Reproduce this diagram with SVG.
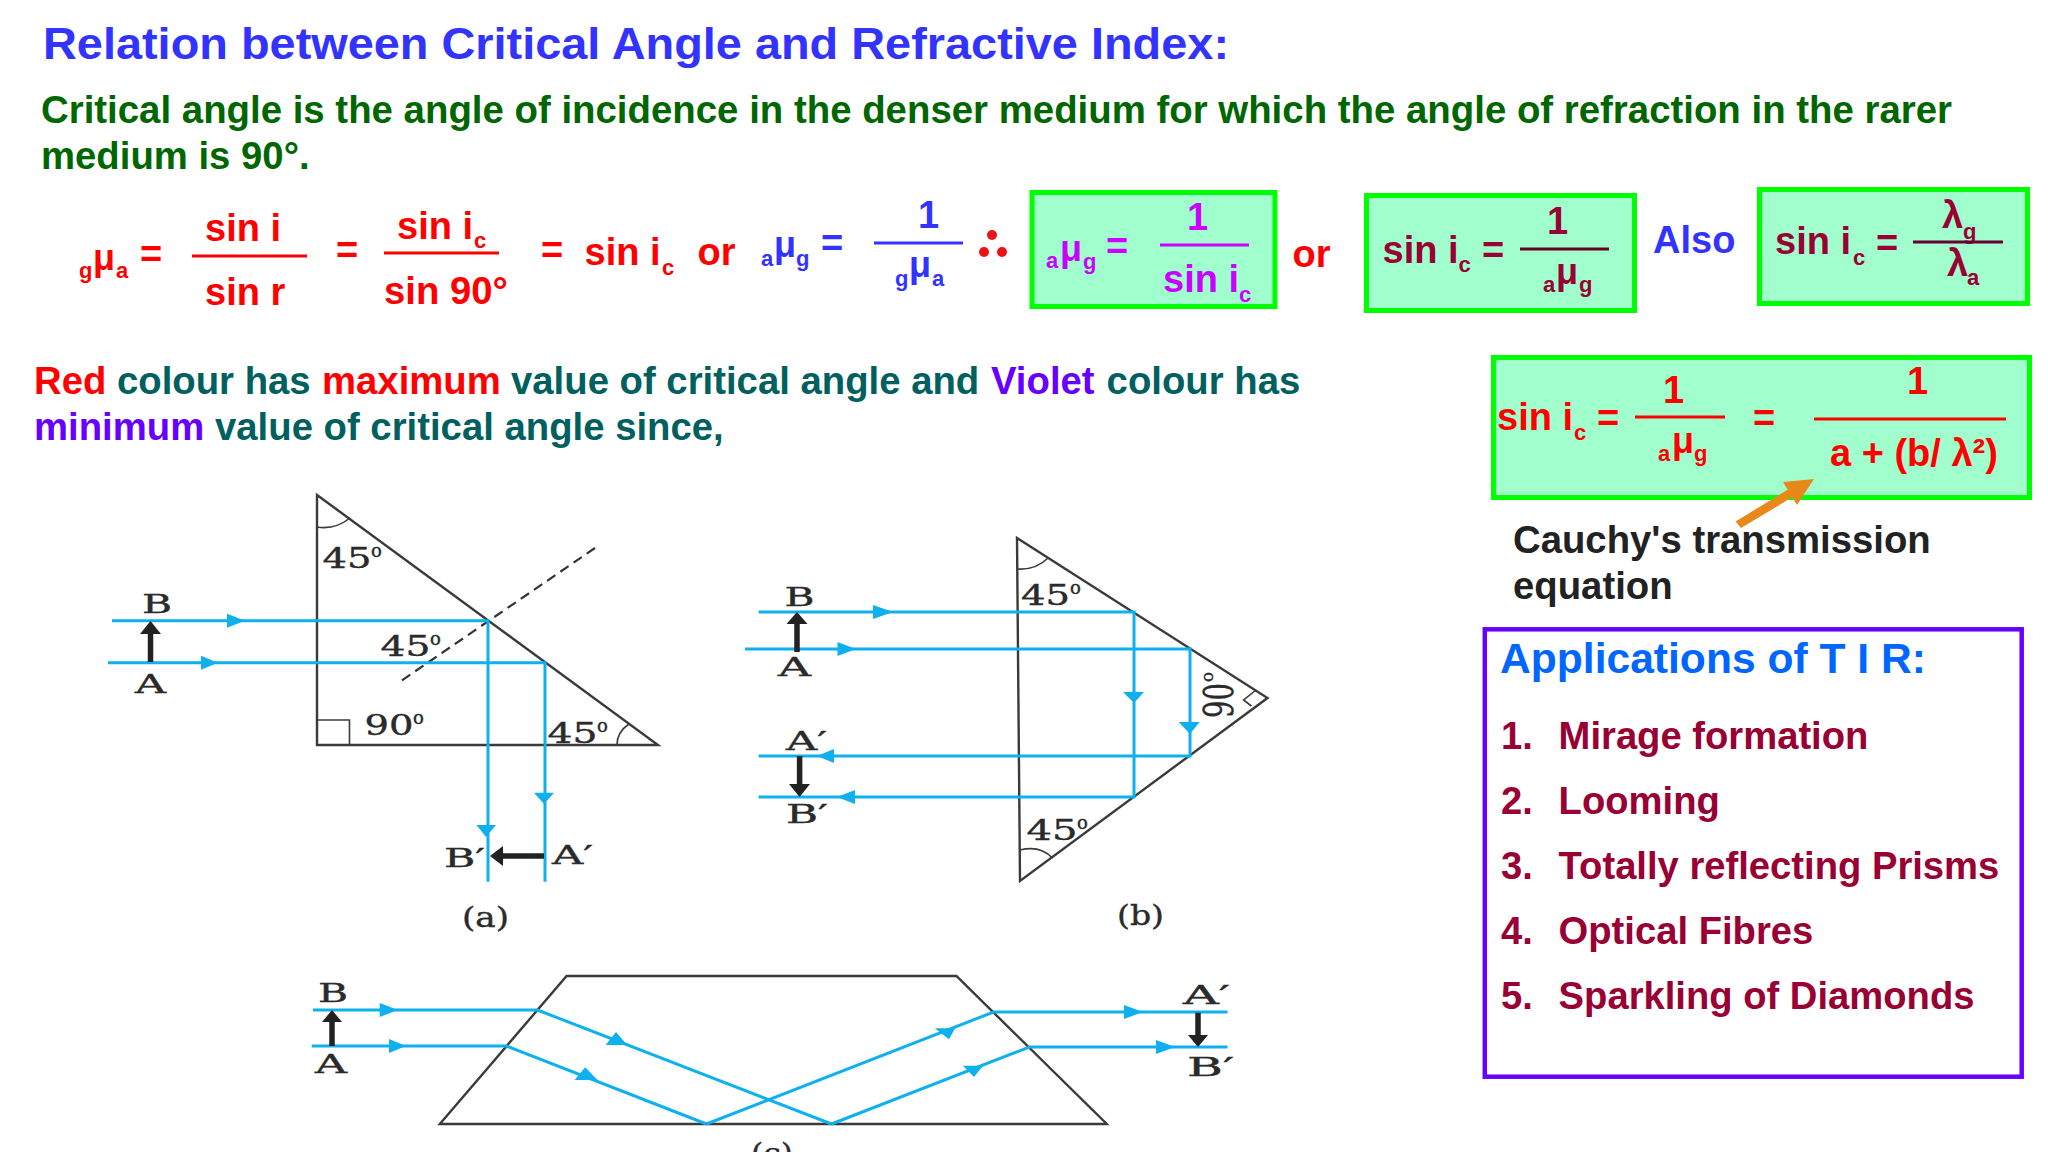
<svg xmlns="http://www.w3.org/2000/svg" width="2048" height="1152" viewBox="0 0 2048 1152">
<style>
text{font-family:"Liberation Sans",Arial,sans-serif;font-weight:700}
.t38{font-size:38px}.sub{font-size:22px}.mu{font-size:36px}
.red{fill:#ff0000}.blue{fill:#3333ff}.pur{fill:#cc00ff}.mar{fill:#990033}.teal{fill:#006060}.vio{fill:#6600ff}
.box{fill:#a0ffcc;stroke:#00ff00;stroke-width:5}
.bar{stroke-width:3;fill:none}
.s{font-family:"DejaVu Serif",serif;font-weight:400;fill:#2a2a2a;stroke:#2a2a2a;stroke-width:.4}
.l{font-size:26px}.n{font-size:28px}.o{font-size:18px}.p{font-size:28px}
.prism{fill:none;stroke:#3a3a3a;stroke-width:2.400}
.thin{fill:none;stroke:#3a3a3a;stroke-width:1.600}
.ray{fill:none;stroke:#0fb0ee;stroke-width:3}
.tip{fill:#0fb0ee}
.blk{stroke:#222;stroke-width:5.500;fill:none}.bh{fill:#222}
</style>
<rect width="2048" height="1152" fill="#ffffff"/>
<g id="heading">
<text x="43" y="59" font-size="44" fill="#3333ff" textLength="1186" lengthAdjust="spacingAndGlyphs">Relation between Critical Angle and Refractive Index:</text>
<text x="41" y="123" font-size="38" fill="#006600" textLength="1911" lengthAdjust="spacingAndGlyphs">Critical angle is the angle of incidence in the denser medium for which the angle of refraction in the rarer</text>
<text x="41" y="169" font-size="38.300" fill="#006600">medium is 90°.</text>
</g>
<g id="formula-line">
<text x="79" y="278" class="sub red">g</text><text x="93" y="270" class="mu red">μ</text><text x="116" y="278" class="sub red">a</text><text x="140" y="267" class="t38 red">=</text>
<text x="205" y="240.500" class="t38 red">sin i</text><line x1="192" y1="256" x2="307" y2="256" class="bar" stroke="#ff0000"/><text x="205" y="305" class="t38 red">sin r</text>
<text x="336" y="263" class="t38 red">=</text>
<text x="397" y="238.500" class="t38 red">sin i</text><text x="474" y="248" class="sub red">c</text><line x1="384" y1="253" x2="499" y2="253" class="bar" stroke="#ff0000"/><text x="384" y="303.500" font-size="38.300" class="red">sin 90°</text>
<text x="541" y="263" class="t38 red">=</text>
<text x="584.500" y="264.500" class="t38 red">sin i</text><text x="662" y="274.500" class="sub red">c</text><text x="697.500" y="264.500" class="t38 red">or</text>
<text x="761" y="266" class="sub blue">a</text><text x="774" y="257" class="mu blue">μ</text><text x="796" y="266" class="sub blue">g</text><text x="821" y="256" class="t38 blue">=</text>
<text x="918" y="228" class="t38 blue">1</text><line x1="874" y1="243" x2="963" y2="243" class="bar" stroke="#3333ff"/>
<text x="895" y="286" class="sub blue">g</text><text x="909" y="277" class="mu blue">μ</text><text x="932" y="286" class="sub blue">a</text>
<circle cx="992" cy="235" r="5" fill="#ee1111"/><circle cx="984" cy="252" r="5" fill="#ee1111"/><circle cx="1002" cy="252" r="5" fill="#ee1111"/>
</g>
<g id="box-mu">
<rect x="1032" y="192.500" width="243" height="114" class="box"/>
<text x="1046" y="268" class="sub pur">a</text><text x="1060" y="261" class="mu pur">μ</text><text x="1083" y="269" class="sub pur">g</text><text x="1106" y="259" class="t38 pur">=</text>
<text x="1187" y="230" class="t38 pur">1</text><line x1="1160" y1="245" x2="1249" y2="245" class="bar" stroke="#cc00ff"/>
<text x="1163" y="292" class="t38 pur">sin i</text><text x="1239" y="302" class="sub pur">c</text>
</g>
<text id="or-2" x="1292.500" y="267" class="t38 red">or</text>
<g id="box-sin">
<rect x="1366.500" y="195.500" width="268" height="115" class="box"/>
<text x="1382.600" y="262.500" class="t38 mar">sin i</text><text x="1458.600" y="272" class="sub mar">c</text><text x="1482" y="263" class="t38 mar">=</text>
<text x="1547" y="234" class="t38 mar">1</text><line x1="1520" y1="249" x2="1609" y2="249" class="bar" stroke="#660022"/>
<text x="1543" y="292" class="sub mar">a</text><text x="1556" y="284" class="mu mar">μ</text><text x="1579" y="292" class="sub mar">g</text>
</g>
<text id="also" x="1653" y="253" class="t38 blue">Also</text>
<g id="box-lambda">
<rect x="1759.500" y="189.500" width="268" height="114" class="box"/>
<text x="1775" y="254" class="t38 mar">sin i</text><text x="1853" y="265" class="sub mar">c</text><text x="1876" y="256" class="t38 mar">=</text>
<text x="1942" y="228" class="t38 mar">λ</text><text x="1963" y="239" class="sub mar">g</text><line x1="1913" y1="242" x2="2003" y2="242" class="bar" stroke="#660033"/>
<text x="1947" y="276" class="t38 mar">λ</text><text x="1967" y="285" class="sub mar">a</text>
</g>
<g id="statement">
<text y="394" font-size="38.300"><tspan class="red" x="34">Red</tspan><tspan class="teal" x="117">colour has</tspan><tspan class="red" x="322">maximum</tspan><tspan class="teal" x="511">value of critical angle and</tspan><tspan class="vio" x="991">Violet</tspan><tspan class="teal" x="1106.600">colour has</tspan></text>
<text y="440" font-size="38.300"><tspan class="vio" x="34">minimum</tspan><tspan class="teal" x="215">value of critical angle since,</tspan></text>
</g>
<g id="box-cauchy">
<rect x="1493.500" y="357.500" width="536" height="140" class="box"/>
<text x="1497" y="430" class="t38 red">sin i</text><text x="1574" y="440" class="sub red">c</text><text x="1597" y="431" class="t38 red">=</text>
<text x="1663" y="403" class="t38 red">1</text><line x1="1635" y1="417" x2="1725" y2="417" class="bar" stroke="#ff0000"/>
<text x="1658" y="461" class="sub red">a</text><text x="1672" y="453" class="mu red">μ</text><text x="1694" y="461" class="sub red">g</text>
<text x="1753" y="431" class="t38 red">=</text>
<text x="1907" y="394" class="t38 red">1</text><line x1="1814" y1="419" x2="2006" y2="419" class="bar" stroke="#ff0000"/>
<text x="1830" y="466" class="t38 red">a + (b/ λ²)</text>
</g>
<g id="cauchy-label">
<polygon points="1735.600,521.500 1787.700,489.700 1783,482 1814,479 1797,505 1792.300,497.300 1741,528" fill="#e6891a"/>
<text x="1513" y="553" font-size="38.300" fill="#222222">Cauchy's transmission</text>
<text x="1513" y="598.500" font-size="38.300" fill="#222222">equation</text>
</g>
<g id="applications">
<rect x="1484.800" y="629.300" width="536.900" height="447.400" fill="#ffffff" stroke="#6600ff" stroke-width="4.500"/>
<text x="1500" y="672.500" font-size="42.600" fill="#0066ff">Applications of T I R:</text>
<g class="mar" font-size="38.200">
<text x="1501" y="749">1.</text><text x="1558.600" y="749">Mirage formation</text>
<text x="1501" y="814">2.</text><text x="1558.600" y="814">Looming</text>
<text x="1501" y="879">3.</text><text x="1558.600" y="879">Totally reflecting Prisms</text>
<text x="1501" y="944">4.</text><text x="1558.600" y="944">Optical Fibres</text>
<text x="1501" y="1009">5.</text><text x="1558.600" y="1009">Sparkling of Diamonds</text>
</g>
</g>
<g id="prism-a">
<polygon class="prism" points="317,495 658,745 317,745"/>
<path class="thin" d="M317,527 Q335,530 350,518 M317,720 H349.500 V745 M617,745 Q617,732 629,724"/>
<line x1="595" y1="548" x2="401" y2="681" stroke="#333333" stroke-width="2.200" stroke-dasharray="10 6"/>
<path class="ray" d="M112,620.700 H488 V881.700 M108,662.700 H545 V881.700"/>
<polygon class="tip" points="227,613.700 245,620.700 227,627.700"/><polygon class="tip" points="201,655.700 218,662.700 201,669.700"/>
<polygon class="tip" points="476.500,825 496,825 486,837"/><polygon class="tip" points="534,792.700 554,792.700 544,804"/>
<path class="blk" d="M150.500,662 V632"/><polygon class="bh" points="150.500,621 161,634 140,634"/>
<path class="blk" d="M544,856 H500"/><polygon class="bh" points="490,856 503,846 503,866"/>
<text class="s l" x="142" y="613" textLength="30" lengthAdjust="spacingAndGlyphs">B</text>
<text class="s l" x="135" y="693" textLength="31" lengthAdjust="spacingAndGlyphs">A</text>
<text class="s n" x="322.500" y="568" textLength="49" lengthAdjust="spacingAndGlyphs">45</text><text class="s o" x="371" y="557">o</text>
<text class="s n" x="380.600" y="656" textLength="50" lengthAdjust="spacingAndGlyphs">45</text><text class="s o" x="430" y="645">o</text>
<text class="s n" x="364.500" y="735" textLength="49" lengthAdjust="spacingAndGlyphs">90</text><text class="s o" x="413" y="724">o</text>
<text class="s n" x="547.500" y="743" textLength="50" lengthAdjust="spacingAndGlyphs">45</text><text class="s o" x="597" y="732">o</text>
<text class="s l" x="444" y="867" textLength="41" lengthAdjust="spacingAndGlyphs">B′</text>
<text class="s l" x="552" y="864" textLength="41" lengthAdjust="spacingAndGlyphs">A′</text>
<text class="s p" x="462" y="927" textLength="47" lengthAdjust="spacingAndGlyphs">(a)</text>
</g>
<g id="prism-b">
<polygon class="prism" points="1017,538 1267.500,698 1020,881"/>
<path class="thin" d="M1018,569 Q1036,570 1048,558 M1020,850 Q1040,845 1052.500,858 M1256,690 L1243.600,700 L1251.400,706"/>
<path class="ray" d="M758.600,612 H1134 V797 H758.600 M745,649 H1190 V756 H758.600"/>
<polygon class="tip" points="873,605 893,612 873,619"/><polygon class="tip" points="837.500,642 856,649 837.500,656"/>
<polygon class="tip" points="817,756 834,749 834,763"/><polygon class="tip" points="837,797 855,790 855,804"/>
<polygon class="tip" points="1123,692 1144,692 1134,703"/><polygon class="tip" points="1178.600,722 1199.600,722 1190,734"/>
<path class="blk" d="M797,652 V622"/><polygon class="bh" points="797,612 807.500,624 786.500,624"/>
<path class="blk" d="M799.600,756 V786"/><polygon class="bh" points="799.600,797 789,784 810,784"/>
<text class="s l" x="784.500" y="606" textLength="30" lengthAdjust="spacingAndGlyphs">B</text>
<text class="s l" x="778" y="676" textLength="33" lengthAdjust="spacingAndGlyphs">A</text>
<text class="s l" x="786" y="750" textLength="41" lengthAdjust="spacingAndGlyphs">A′</text>
<text class="s l" x="786" y="823" textLength="42" lengthAdjust="spacingAndGlyphs">B′</text>
<text class="s n" x="1021" y="605" textLength="49" lengthAdjust="spacingAndGlyphs">45</text><text class="s o" x="1070" y="594">o</text>
<text class="s n" x="1026.500" y="840" textLength="51" lengthAdjust="spacingAndGlyphs">45</text><text class="s o" x="1077" y="829">o</text>
<g transform="translate(1233,718) rotate(-90)"><text class="s" font-size="41" x="0" y="0" textLength="35" lengthAdjust="spacingAndGlyphs">90</text><text class="s" x="36" y="-20" font-size="16" textLength="10" lengthAdjust="spacingAndGlyphs">o</text></g>
<text class="s p" x="1117" y="925" textLength="47" lengthAdjust="spacingAndGlyphs">(b)</text>
</g>
<g id="prism-c">
<polygon class="prism" points="566.600,976 956.400,976 1106.800,1124 439.800,1124"/>
<path class="ray" d="M313,1010 H537.500 L831.500,1124 M311.700,1046 H506.600 L706.500,1124"/>
<path class="ray" d="M831.500,1124 L1029.500,1047 H1227.500 M706.500,1124 L993.600,1012 H1227.500"/>
<polygon class="tip" points="379.700,1003 398,1010 379.700,1017"/><polygon class="tip" points="389,1039 406,1046 389,1053"/>
<polygon class="tip" points="1124,1005 1143,1012 1124,1019"/><polygon class="tip" points="1156,1040 1175,1047 1156,1054"/>
<polygon class="tip" points="627.200,1045 605.600,1045 616,1032"/><polygon class="tip" points="597.500,1080 574.600,1080 585.200,1067.300"/>
<polygon class="tip" points="955.200,1028.300 934.800,1028.300 949,1039.300"/><polygon class="tip" points="983,1065.700 963,1065.700 974,1077"/>
<path class="blk" d="M332,1046 V1018"/><polygon class="bh" points="332,1010 342,1022 322,1022"/>
<path class="blk" d="M1198,1012.700 V1038"/><polygon class="bh" points="1198,1047 1188,1035 1208,1035"/>
<text class="s l" x="318" y="1002" textLength="30" lengthAdjust="spacingAndGlyphs">B</text>
<text class="s l" x="315" y="1073" textLength="32" lengthAdjust="spacingAndGlyphs">A</text>
<text class="s l" x="1183" y="1004" textLength="47" lengthAdjust="spacingAndGlyphs">A′</text>
<text class="s l" x="1187" y="1076" textLength="47" lengthAdjust="spacingAndGlyphs">B′</text>
<text class="s p" x="751" y="1163" textLength="42" lengthAdjust="spacingAndGlyphs">(c)</text>
</g>
</svg>
